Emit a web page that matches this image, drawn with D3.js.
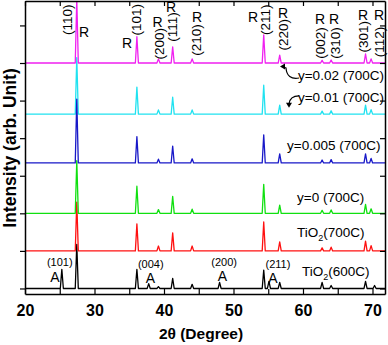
<!DOCTYPE html>
<html>
<head>
<meta charset="utf-8">
<script src="https://cdn.jsdelivr.net/npm/d3@7"></script>
<style>
  body { margin: 0; background: #fff; }
  svg text { font-family: "Liberation Sans", Arial, sans-serif; }
</style>
</head>
<body>
<div id="vis"></div>
<script>
(function () {
  'use strict';

  // peak positions (2 theta) and heights (arb. units)
  var RUTILE_PEAKS = [27.45, 36.1, 39.2, 41.25, 44.05, 54.35, 56.65, 62.75, 64.05, 69.0, 69.8];
  var BLACK_PEAKS = [25.3, 27.45, 36.1, 37.8, 39.2, 41.25, 44.05, 48.0, 54.35, 55.1, 56.65, 62.75, 64.05, 69.0, 70.3];
  var BLACK_HEIGHTS = [0.51, 1.17, 0.51, 0.13, 0.05, 0.27, 0.11, 0.16, 0.49, 0.19, 0.16, 0.16, 0.08, 0.19, 0.08];
  var RED_HEIGHTS = [1.3, 0.72, 0.13, 0.48, 0.13, 0.77, 0.24, 0.08, 0.1, 0.26, 0.14];
  var GREEN_HEIGHTS = [1.4, 0.72, 0.1, 0.45, 0.11, 0.77, 0.22, 0.08, 0.09, 0.24, 0.12];
  var BLUE_HEIGHTS = [1.7, 0.7, 0.1, 0.45, 0.11, 0.75, 0.24, 0.08, 0.09, 0.24, 0.12];
  var CYAN_HEIGHTS = [1.5, 0.72, 0.11, 0.45, 0.11, 0.77, 0.24, 0.08, 0.09, 0.24, 0.12];
  var MAGENTA_HEIGHTS = [1.7, 0.7, 0.11, 0.43, 0.11, 0.75, 0.21, 0.07, 0.08, 0.24, 0.11];
  var OFFSETS = [0, 1.0, 2.0, 3.34, 4.64, 6.0];
  var X_TICKS = [20, 25, 30, 35, 40, 45, 50, 55, 60, 65, 70];
  var X_LABELS = [20, 30, 40, 50, 60, 70];
  var Y_TICKS = [0, 1, 2, 3, 4, 5, 6, 7];

  // annotations: [text, 2theta, intensity]
  var MILLER_LABELS = [
    ['(110)', 26.04, 7.15], ['(101)', 35.97, 7.15], ['(200)', 39.28, 6.51],
    ['(111)', 41.15, 6.96], ['(210)', 44.6, 6.61], ['(211)', 54.53, 7.15],
    ['(220)', 57.12, 6.75], ['(002)', 62.45, 6.53], ['(310)', 64.6, 6.53],
    ['(301)', 68.63, 6.7], ['(112)', 70.94, 6.56]
  ];
  var R_LABELS = [
    [28.49, 6.83], [34.68, 6.53], [39.06, 7.09], [41.01, 7.48], [44.75, 7.23],
    [52.81, 7.23], [57.12, 7.33], [62.45, 7.17], [64.46, 7.17], [68.63, 7.28], [70.94, 7.28]
  ];
  // [miller text, 2theta, intensity, 2theta of "A", intensity of "A"]
  var ANATASE_LABELS = [
    ['(101)', 25.0, 0.7, 24.3, 0.3], ['(004)', 38.1, 0.66, 38.05, 0.27],
    ['(200)', 48.66, 0.71, 48.42, 0.32], ['(211)', 56.4, 0.66, 55.68, 0.27]
  ];
  var SERIES_LABELS = [
    ['y=0.02 (700C)', 59.28, 5.68], ['y=0.01 (700C)', 59.28, 5.1],
    ['y=0.005 (700C)', 57.7, 3.82], ['y=0 (700C)', 59.14, 2.44]
  ];
  var TIO2_LABELS = [['700C', 59.14, 1.49], ['600C', 59.14, 0.47]];
  var COLORS = ['#000000', '#ff1010', '#10e010', '#1818c8', '#20e2f0', '#f020f0'];

  var WIDTH = 388;
  var HEIGHT = 345;
  var LEFT = 25, RIGHT = 385, TOP = 1, BOTTOM = 294;
  var HW = 0.22; // half width of a peak in degrees

  var x = d3.scaleLinear().domain([20, 71.8]).range([LEFT, RIGHT]);
  var y = d3.scaleLinear().domain([-0.147, 7.65]).range([BOTTOM, TOP]);

  var svg = d3.select('#vis').append('svg')
    .attr('width', WIDTH)
    .attr('height', HEIGHT);

  svg.append('clipPath').attr('id', 'clip')
    .append('rect')
    .attr('x', LEFT).attr('y', TOP)
    .attr('width', RIGHT - LEFT).attr('height', BOTTOM - TOP);

  var buildPattern = function (peaks, heights) {
    var pts = [[20, 0]];
    peaks.forEach(function (p, i) {
      pts.push([p - HW, 0], [p, heights[i]], [p + HW, 0]);
    });
    pts.push([71.8, 0]);
    return pts;
  };

  var patterns = [
    buildPattern(BLACK_PEAKS, BLACK_HEIGHTS),
    buildPattern(RUTILE_PEAKS, RED_HEIGHTS),
    buildPattern(RUTILE_PEAKS, GREEN_HEIGHTS),
    buildPattern(RUTILE_PEAKS, BLUE_HEIGHTS),
    buildPattern(RUTILE_PEAKS, CYAN_HEIGHTS),
    buildPattern(RUTILE_PEAKS, MAGENTA_HEIGHTS)
  ];
  // cyan is drawn below blue
  var order = [0, 1, 2, 4, 3, 5];

  var plot = svg.append('g').attr('clip-path', 'url(#clip)');
  order.forEach(function (k) {
    var line = d3.line()
      .x(function (d) { return x(d[0]); })
      .y(function (d) { return y(d[1] + OFFSETS[k]); });
    plot.append('path')
      .datum(patterns[k])
      .attr('d', line)
      .attr('fill', 'none')
      .attr('stroke', COLORS[k])
      .attr('stroke-width', 1.3)
      .attr('stroke-linejoin', 'round');
  });

  // axes
  var styleAxis = function (g) {
    g.select('.domain').attr('stroke', '#000').attr('stroke-width', 1.5);
    g.selectAll('.tick line').attr('stroke', '#000').attr('stroke-width', 1.2);
  };
  svg.append('g')
    .attr('transform', 'translate(0,' + BOTTOM + ')')
    .call(d3.axisBottom(x).tickValues(X_TICKS).tickSize(-5).tickSizeOuter(0)
      .tickPadding(11)
      .tickFormat(function (d) { return X_LABELS.indexOf(d) >= 0 ? d : ''; }))
    .call(styleAxis)
    .call(function (g) {
      g.selectAll('text').attr('font-size', 16).attr('font-weight', 'bold')
        .attr('fill', '#000').attr('font-family', '"Liberation Sans", Arial, sans-serif');
    });
  svg.append('g')
    .attr('transform', 'translate(0,' + TOP + ')')
    .call(d3.axisTop(x).tickValues(X_TICKS).tickSize(-5).tickSizeOuter(0).tickFormat(''))
    .call(styleAxis);
  svg.append('g')
    .attr('transform', 'translate(' + LEFT + ',0)')
    .call(d3.axisLeft(y).tickValues(Y_TICKS).tickSize(5).tickSizeOuter(0).tickFormat(''))
    .call(styleAxis);
  svg.append('g')
    .attr('transform', 'translate(' + RIGHT + ',0)')
    .call(d3.axisRight(y).tickValues(Y_TICKS).tickSize(-5).tickSizeOuter(0).tickFormat(''))
    .call(styleAxis);

  // axis titles
  svg.append('text')
    .attr('x', 201).attr('y', 339)
    .attr('text-anchor', 'middle')
    .attr('font-size', 15.5).attr('font-weight', 'bold')
    .text('2\u03b8 (Degree)');
  svg.append('text')
    .attr('transform', 'translate(16,148) rotate(-90)')
    .attr('text-anchor', 'middle')
    .attr('font-size', 17.5).attr('font-weight', 'bold')
    .text('Intensity (arb. Unit)');

  // rutile annotations
  svg.selectAll('.miller').data(MILLER_LABELS).enter().append('text')
    .attr('transform', function (d) {
      return 'translate(' + x(d[1]) + ',' + y(d[2]) + ') rotate(-90)';
    })
    .attr('text-anchor', 'middle')
    .attr('dy', '0.35em')
    .attr('font-size', 13.5)
    .text(function (d) { return d[0]; });
  svg.selectAll('.rlab').data(R_LABELS).enter().append('text')
    .attr('x', function (d) { return x(d[0]); })
    .attr('y', function (d) { return y(d[1]); })
    .attr('text-anchor', 'middle')
    .attr('dy', '0.36em')
    .attr('font-size', 14)
    .text('R');

  // anatase annotations
  var an = svg.selectAll('.anat').data(ANATASE_LABELS).enter().append('g');
  an.append('text')
    .attr('x', function (d) { return x(d[1]); })
    .attr('y', function (d) { return y(d[2]); })
    .attr('text-anchor', 'middle').attr('dy', '0.35em')
    .attr('font-size', 11)
    .text(function (d) { return d[0]; });
  an.append('text')
    .attr('x', function (d) { return x(d[3]); })
    .attr('y', function (d) { return y(d[4]); })
    .attr('text-anchor', 'middle').attr('dy', '0.36em')
    .attr('font-size', 14)
    .text('A');

  // series labels
  svg.selectAll('.slab').data(SERIES_LABELS).enter().append('text')
    .attr('x', function (d) { return x(d[1]); })
    .attr('y', function (d) { return y(d[2]); })
    .attr('dy', '0.36em')
    .attr('font-size', 13.5)
    .text(function (d) { return d[0]; });
  var tl = svg.selectAll('.tlab').data(TIO2_LABELS).enter().append('text')
    .attr('x', function (d, i) { return x(d[1]) + (i ? 5 : 0); })
    .attr('y', function (d) { return y(d[2]); })
    .attr('dy', '0.36em')
    .attr('font-size', 13.5);
  tl.append('tspan').text('TiO');
  tl.append('tspan').attr('font-size', 9).attr('dy', 4).text('2');
  tl.append('tspan').attr('dy', -4).text(function (d) { return '(' + d[0] + ')'; });

  // arrows from the y=0.02 and y=0.01 labels
  var a1x = x(59.28), a1y = y(5.68);
  svg.append('path')
    .attr('d', 'M' + (a1x + 1) + ',' + (a1y + 3) + ' Q' + (a1x - 11) + ',' + (a1y + 5) +
      ' ' + (a1x - 12) + ',' + (a1y - 7) + ' L' + (a1x - 15) + ',' + (a1y - 8))
    .attr('fill', 'none').attr('stroke', '#000').attr('stroke-width', 1.2);
  svg.append('path')
    .attr('d', 'M' + (a1x - 18) + ',' + (a1y - 8.5) + ' l5,-3 l0,6 z')
    .attr('fill', '#000');
  var a2x = x(59.28), a2y = y(5.1);
  svg.append('path')
    .attr('d', 'M' + (a2x + 1) + ',' + (a2y - 1) + ' Q' + (a2x - 8) + ',' + (a2y - 1) +
      ' ' + (a2x - 9) + ',' + (a2y + 7))
    .attr('fill', 'none').attr('stroke', '#000').attr('stroke-width', 1.2);
  svg.append('path')
    .attr('d', 'M' + (a2x - 9) + ',' + (a2y + 11) + ' l-3,-5 l6,0 z')
    .attr('fill', '#000');
})();
</script>
</body>
</html>
